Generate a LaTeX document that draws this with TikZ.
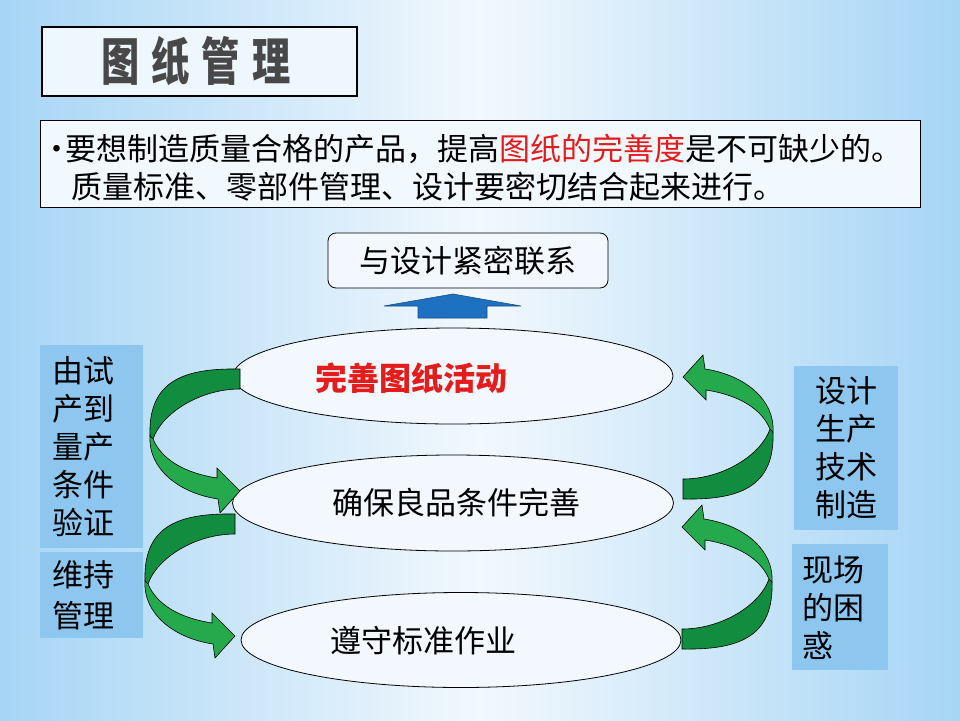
\documentclass[tikz,border=0pt]{standalone}
\usepackage{fontspec}
\setmainfont{Noto Sans CJK SC}
\usepackage{graphicx}
\usetikzlibrary{shapes.geometric,positioning}

\definecolor{bgblue}{RGB}{166,213,245}
\definecolor{bglight}{RGB}{242,248,253}
\definecolor{boxblue}{RGB}{141,198,239}
\definecolor{ovalfill}{RGB}{242,248,253}
\definecolor{darkgreen}{RGB}{18,140,62}
\definecolor{lightgreen}{RGB}{36,170,76}
\definecolor{upblue}{RGB}{30,112,192}
\definecolor{redtext}{RGB}{228,28,28}
\definecolor{titlegray}{RGB}{72,72,72}

\tikzset{
  greenarrow/.pic={
    \filldraw[fill=darkgreen, draw=black, line width=0.6pt] (0,-9) .. controls (-55,-10) and (-92,2) .. (-90,58) -- (-87,61) .. controls (-78,35) and (-40,11) .. (0,11) -- cycle;
    \filldraw[fill=lightgreen, draw=black, line width=0.6pt] (-90,58) .. controls (-92,90) and (-62,115) .. (-22,121) -- (-20,135) -- (0,113) -- (-23,90) -- (-23,100) .. controls (-55,95) and (-78,82) .. (-87,61) -- cycle;
  }
}

\begin{document}
\begin{tikzpicture}[x=1pt,y=-1pt,
  oval/.style={ellipse, draw=black, line width=0.8pt, fill=ovalfill, inner sep=0pt, minimum width=440pt, minimum height=96pt, font=\fontsize{31}{36}\selectfont},
  sidebox/.style={fill=boxblue, inner ysep=0pt, font=\fontsize{31}{38}\selectfont},
  cjk/.style={inner sep=0pt, font=\fontsize{31}{36}\selectfont}]
 \useasboundingbox (0,0) rectangle (960,720);

 %Background
 \shade[left color=bgblue, right color=bgblue, middle color=bglight] (0,0) rectangle (960,720);

 %Title
 \node (titlebox) [draw=black, line width=2pt, fill=white!80!bgblue, minimum width=315pt, minimum height=69pt] at (199.5,61.5) {};
 \node (title) [inner sep=0pt, text=titlegray, font=\fontsize{51}{56}\selectfont\bfseries] at (196,61.5) {\scalebox{0.75}[1]{图\hspace{16pt}纸\hspace{16pt}管\hspace{16pt}理}};

 %Note
 \node (notebox) [draw=black, line width=1pt, fill=white!85!bgblue, minimum width=880pt, minimum height=87pt, anchor=north west] at (40,120) {};
 \node (line1) [cjk, anchor=west] at (48,149) {\makebox[17pt]{·}要想制造质量合格的产品，提高\textcolor{redtext}{图纸的完善度}是不可缺少的。};
 \node (line2) [cjk, anchor=west] at (71,187) {质量标准、零部件管理、设计要密切结合起来进行。};

 %Link box and arrow up
 \node (link) [cjk, draw=black, line width=0.8pt, fill=ovalfill, rounded corners=8pt, minimum width=280pt, minimum height=55pt] at (468,260.5) {与设计紧密联系};
 \coordinate (uptip) at (453,294);
 \filldraw[fill=upblue, draw=upblue!70!black, line width=0.6pt] (uptip) -- ++(68,12) -- ++(-34,0) -- ++(0,12) -- ++(-69,0) -- ++(0,-12) -- ++(-34,0) -- cycle;

 %Ellipses
 \node (drawing) [oval] at (453,376) {};
 \node (drawtext) [cjk, text=redtext, font=\fontsize{32}{36}\selectfont\bfseries] at (411,378) {完善图纸活动};
 \node (goods) [oval, minimum width=441pt] at (453,503) {\hspace{6pt}确保良品条件完善};
 \node (standard) [oval, minimum height=95pt] at (461,640) {};
 \node (stdtext) [cjk] at (423,641) {遵守标准作业};

 %Side boxes
 \node (trial) [sidebox, text width=79pt, inner xsep=12pt, minimum height=203pt, align=left, anchor=north west] at (40,345) {由试\\产到\\量产\\条件\\验证};
 \node (maintain) [sidebox, text width=79pt, inner xsep=12pt, minimum height=86pt, align=left, anchor=north west, font=\fontsize{31}{41}\selectfont] at (40,552) {维持\\管理};
 \node (design) [sidebox, text width=84pt, inner xsep=10pt, minimum height=164pt, align=center, anchor=north west] at (794,366) {设计\\生产\\技术\\制造};
 \node (site) [sidebox, text width=76pt, inner xsep=10pt, minimum height=126pt, align=left, anchor=north west] at (792,544) {现场\\的困\\惑};

 %Green arrows
 \foreach \x/\y/\r in {240/378/0, 235/523/0, 683/490/180, 682/640/180}
  \pic[rotate=\r] at (\x,\y) {greenarrow};

\end{tikzpicture}
\end{document}
